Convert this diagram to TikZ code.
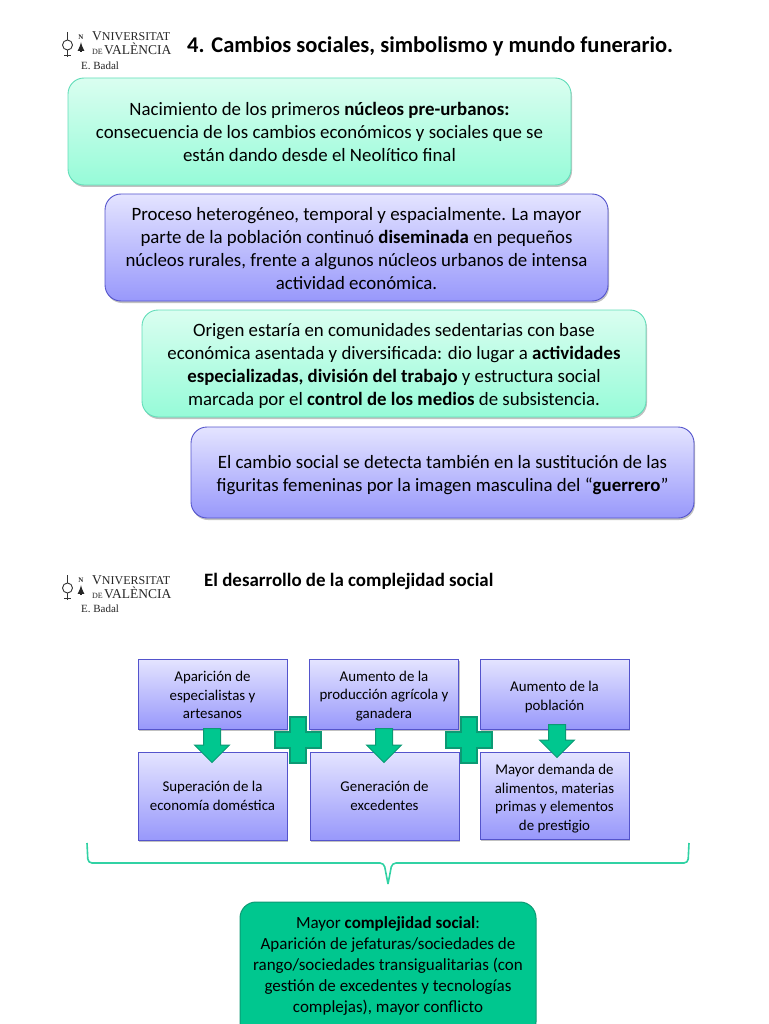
\documentclass[tikz,border=0pt]{standalone}
\usepackage{fontspec}
\setmainfont{Carlito}
\newfontfamily\logofont{Liberation Serif}
\usetikzlibrary{shadows,shapes.arrows}
\definecolor{mintborder}{HTML}{62DDB9}
\definecolor{minttop}{HTML}{DAFEF0}
\definecolor{mintbottom}{HTML}{96FBD8}
\definecolor{lilacborder}{HTML}{5454CC}
\definecolor{lilactop}{HTML}{E4E4FF}
\definecolor{lilacbottom}{HTML}{9898FB}
\definecolor{sumgreen}{HTML}{00C78F}
\definecolor{sumborder}{HTML}{0C9A74}
\newcommand{\textdrop}[1]{\rule{0pt}{#1pt}}
\tikzset{
	softshadow/.style={drop shadow={shadow xshift=1pt, shadow yshift=-2pt, opacity=0.35, fill=black!70}},
	mintbox/.style={draw=mintborder, line width=0.9pt, rounded corners=16pt, top color=minttop, bottom color=mintbottom, softshadow, align=center, inner sep=0pt, font=\fontsize{18.85}{23}\selectfont},
	lilacbox/.style={mintbox, draw=lilacborder, top color=lilactop, bottom color=lilacbottom},
	smallbox/.style={draw=lilacborder, line width=1pt, top color=lilactop, bottom color=lilacbottom, softshadow, align=center, inner sep=0pt, minimum width=149pt, font=\fontsize{14.9}{18.5}\selectfont},
	downarrow/.style={single arrow, draw=sumborder, line width=1pt, fill=sumgreen, shape border rotate=270, anchor=tail, single arrow head extend=9pt, inner sep=8pt},
	plusmark/.style={draw=sumborder, line width=1.6pt, fill=sumgreen},
	ubrace/.style={draw=mintborder!50!sumgreen, line width=1.6pt, rounded corners=4pt},
	logotext/.style={font=\logofont\fontsize{#1}{#1}\selectfont, inner sep=0pt, text=black!85},
	pics/ublogo/.style={code={
		\draw [line width=0.9pt, black!80] (5.5,15) circle [radius=5];
		\draw [line width=0.9pt, black!80] (5.5,2) -- (5.5,10) (5.5,20) -- (5.5,27) (2,25) -- (9,25);
		\node [logotext=7, font=\logofont\bfseries\fontsize{7}{7}\selectfont] (n) at (19,7) {N};
		\draw [line width=2pt, black!85, -latex] (19,22) -- (19,12);
		\node [logotext=13.5, anchor=base west] (vni) at (30,11) {V{\fontsize{12}{12}\selectfont NIVERSITAT}};
		\node [logotext=13.5, anchor=base west] (vlc) at (30,25) {{\fontsize{8}{8}\selectfont DE\,}VALÈNCIA};
		\node [logotext=11] (badal) at (38,35.5) {E. Badal};
	}},
}
\begin{document}
\begin{tikzpicture}[x=1pt, y=-1pt]
	\useasboundingbox (0,0) rectangle (768,1024);

	\pic at (62,30) {ublogo};
	\node [font=\bfseries\fontsize{22.5}{26}\selectfont, anchor=west, inner sep=0pt] (titulo) at (187,46) {4. Cambios sociales, simbolismo y mundo funerario.};

	\node [mintbox, minimum width=503pt, minimum height=107pt] (nucleos) at (319.5,131.5) {Nacimiento de los primeros \textbf{núcleos pre-urbanos:}\\consecuencia de los cambios económicos y sociales que se\\están dando desde el Neolítico final};
	\node [lilacbox, minimum width=503pt, minimum height=107pt] (proceso) at (356.5,247.5) {\textdrop{15}Proceso heterogéneo, temporal y espacialmente. La mayor\\parte de la población continuó \textbf{diseminada} en pequeños\\núcleos rurales, frente a algunos núcleos urbanos de intensa\\actividad económica.};
	\node [mintbox, minimum width=504pt, minimum height=107pt] (origen) at (394,363.5) {\textdrop{19}Origen estaría en comunidades sedentarias con base\\económica asentada y diversificada: dio lugar a \textbf{actividades}\\\textbf{especializadas, división del trabajo} y estructura social\\marcada por el \textbf{control de los medios} de subsistencia.};
	\node [lilacbox, minimum width=503pt, minimum height=91pt] (cambio) at (442.5,472.5) {\textdrop{19}El cambio social se detecta también en la sustitución de las\\figuritas femeninas por la imagen masculina del “\textbf{guerrero}”};

	\pic at (62,573) {ublogo};
	\node [font=\bfseries\fontsize{18.9}{21}\selectfont, anchor=west, inner sep=0pt] (subtitulo) at (204,581) {El desarrollo de la complejidad social};

	\node [smallbox, minimum height=70pt] (aparicion) at (212.5,694) {\textdrop{12.5}Aparición de\\especialistas y\\artesanos};
	\node [smallbox, minimum height=70pt] (produccion) at (384,694) {\textdrop{14.5}Aumento de la\\producción agrícola y\\ganadera};
	\node [smallbox, minimum height=70pt] (poblacion) at (554.5,694) {\textdrop{16.5}Aumento de la\\población};
	\node [smallbox, minimum height=88pt] (superacion) at (212.5,796) {Superación de la\\economía doméstica};
	\node [smallbox, minimum height=88pt] (excedentes) at (384.5,796) {Generación de\\excedentes};
	\node [smallbox, minimum height=87pt] (demanda) at (554.5,795.5) {\textdrop{16.5}Mayor demanda de\\alimentos, materias\\primas y elementos\\de prestigio};

	% flechas
	\node [downarrow, minimum height=34pt] (flechaA) at (212,728) {};
	\node [downarrow, minimum height=34pt] (flechaB) at (384,728) {};
	\node [downarrow, minimum height=33pt] (flechaC) at (557,724) {};

	% signos de suma
	\foreach \cx in {298,469}
		\draw [plusmark] (\cx,740) ++(-8,-23) -- ++(16,0) -- ++(0,15) -- ++(15,0) -- ++(0,16) -- ++(-15,0) -- ++(0,15) -- ++(-16,0) -- ++(0,-15) -- ++(-15,0) -- ++(0,-16) -- ++(15,0) -- cycle;

	% llave
	\draw [ubrace] (87,843) -- (88,863) -- (384,863) -- (388,884);
	\draw [ubrace] (689,843) -- (688,863) -- (392,863) -- (388,884);

	\begin{scope}
		\clip (0,0) rectangle (768,1024);
		\node [draw=sumborder, line width=1pt, fill=sumgreen, rounded corners=16pt, minimum width=296pt, minimum height=136pt, inner sep=0pt] (mayorcaja) at (388,970) {};
	\end{scope}
	\node [align=center, inner sep=0pt, font=\fontsize{17}{20.8}\selectfont] (mayor) at (388,966) {Mayor \textbf{complejidad social}:\\Aparición de jefaturas/sociedades de\\rango/sociedades transigualitarias (con\\gestión de excedentes y tecnologías\\complejas), mayor conflicto};
\end{tikzpicture}
\end{document}
